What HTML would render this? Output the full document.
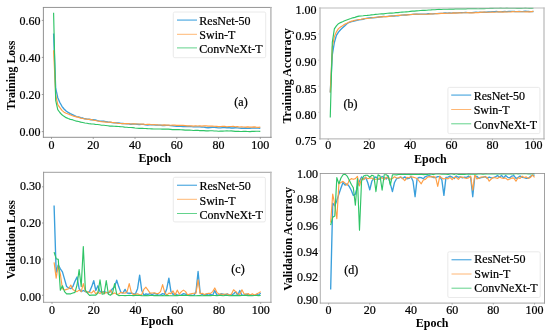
<!DOCTYPE html>
<html><head><meta charset="utf-8"><title>Training curves</title>
<style>
html,body{margin:0;padding:0;background:#fff;}
svg{display:block;font-family:"Liberation Serif","Times New Roman",serif;}
</style></head><body>
<svg width="550" height="334" viewBox="0 0 550 334">
<rect width="550" height="334" fill="#fff"/>
<polyline points="53.59,33.48 55.68,88.21 57.76,97.69 59.85,102.46 61.94,106.29 64.03,108.98 66.12,111.05 68.20,112.45 70.29,113.57 72.38,114.54 74.47,115.67 76.56,116.60 78.64,116.93 80.73,117.61 82.82,118.03 84.91,118.77 87.00,119.07 89.08,119.23 91.17,119.74 93.26,119.74 95.35,119.92 97.44,120.64 99.52,121.14 101.61,121.23 103.70,121.18 105.79,121.59 107.88,122.00 109.96,122.20 112.05,122.63 114.14,122.84 116.23,122.91 118.32,123.00 120.40,123.28 122.49,123.50 124.58,123.70 126.67,123.75 128.76,123.94 130.84,124.26 132.93,124.04 135.02,124.16 137.11,124.21 139.20,124.54 141.28,124.31 143.37,124.32 145.46,124.79 147.55,124.96 149.64,124.87 151.72,124.88 153.81,124.81 155.90,125.10 157.99,125.06 160.08,125.18 162.16,125.48 164.25,125.52 166.34,125.41 168.43,125.42 170.52,125.66 172.60,125.77 174.69,126.17 176.78,126.29 178.87,126.10 180.96,126.26 183.04,126.53 185.13,126.49 187.22,126.44 189.31,126.47 191.40,126.69 193.48,126.81 195.57,126.87 197.66,126.80 199.75,126.94 201.84,127.12 203.92,127.20 206.01,127.54 208.10,127.73 210.19,127.50 212.28,127.27 214.36,127.41 216.45,127.62 218.54,127.89 220.63,127.84 222.72,127.58 224.80,127.58 226.89,127.73 228.98,127.64 231.07,127.97 233.16,128.00 235.24,127.78 237.33,127.90 239.42,128.05 241.51,128.24 243.60,128.21 245.68,127.98 247.77,128.41 249.86,128.21 251.95,128.11 254.04,128.04 256.12,128.10 258.21,128.11 260.30,128.29" fill="none" stroke="#3a9fdc" stroke-width="1.35" stroke-linejoin="round"/>
<polyline points="53.59,50.18 55.68,94.70 57.76,104.65 59.85,107.56 61.94,110.34 64.03,112.15 66.12,113.19 68.20,114.03 70.29,114.85 72.38,115.79 74.47,116.35 76.56,116.89 78.64,117.41 80.73,118.14 82.82,118.56 84.91,118.98 87.00,119.18 89.08,119.31 91.17,119.56 93.26,120.07 95.35,120.51 97.44,120.95 99.52,121.43 101.61,121.80 103.70,121.85 105.79,122.07 107.88,122.26 109.96,122.17 112.05,122.43 114.14,122.64 116.23,122.99 118.32,123.36 120.40,123.46 122.49,123.69 124.58,123.67 126.67,123.45 128.76,123.60 130.84,124.01 132.93,123.88 135.02,123.94 137.11,124.02 139.20,124.00 141.28,124.10 143.37,124.18 145.46,124.49 147.55,124.33 149.64,124.30 151.72,124.76 153.81,124.69 155.90,124.71 157.99,124.90 160.08,124.98 162.16,125.07 164.25,124.91 166.34,125.09 168.43,125.03 170.52,125.29 172.60,125.15 174.69,125.10 176.78,125.34 178.87,125.43 180.96,125.31 183.04,125.38 185.13,125.57 187.22,125.84 189.31,125.94 191.40,125.81 193.48,126.06 195.57,125.80 197.66,126.05 199.75,125.84 201.84,126.09 203.92,125.87 206.01,125.93 208.10,126.09 210.19,126.18 212.28,126.18 214.36,126.23 216.45,126.43 218.54,126.61 220.63,126.55 222.72,126.31 224.80,126.38 226.89,126.74 228.98,126.53 231.07,126.50 233.16,126.40 235.24,126.77 237.33,126.66 239.42,127.01 241.51,126.88 243.60,127.04 245.68,127.16 247.77,126.88 249.86,127.19 251.95,127.13 254.04,126.93 256.12,127.19 258.21,127.36 260.30,127.08" fill="none" stroke="#ff9f45" stroke-width="1.15" stroke-linejoin="round"/>
<polyline points="53.59,12.71 55.68,100.27 57.76,109.64 59.85,112.50 61.94,114.80 64.03,116.34 66.12,117.65 68.20,118.57 70.29,119.34 72.38,119.67 74.47,120.47 76.56,121.18 78.64,121.52 80.73,122.15 82.82,122.56 84.91,122.98 87.00,123.27 89.08,123.74 91.17,123.92 93.26,124.05 95.35,124.36 97.44,124.55 99.52,124.77 101.61,125.21 103.70,125.27 105.79,125.46 107.88,125.75 109.96,126.08 112.05,126.03 114.14,126.23 116.23,126.35 118.32,126.45 120.40,126.65 122.49,126.76 124.58,127.10 126.67,127.20 128.76,127.46 130.84,127.49 132.93,127.61 135.02,128.03 137.11,128.26 139.20,128.39 141.28,128.23 143.37,128.39 145.46,128.45 147.55,128.65 149.64,128.72 151.72,128.84 153.81,128.96 155.90,128.98 157.99,129.03 160.08,128.97 162.16,129.07 164.25,129.07 166.34,129.13 168.43,129.15 170.52,129.32 172.60,129.63 174.69,129.56 176.78,129.52 178.87,129.57 180.96,129.75 183.04,129.82 185.13,130.08 187.22,130.01 189.31,130.11 191.40,130.30 193.48,130.51 195.57,130.35 197.66,130.25 199.75,130.57 201.84,130.50 203.92,130.64 206.01,130.83 208.10,130.91 210.19,130.80 212.28,130.73 214.36,131.04 216.45,131.00 218.54,131.23 220.63,131.08 222.72,131.16 224.80,131.01 226.89,130.91 228.98,131.04 231.07,130.93 233.16,131.15 235.24,131.35 237.33,131.26 239.42,131.44 241.51,131.48 243.60,131.43 245.68,131.34 247.77,131.47 249.86,131.58 251.95,131.34 254.04,131.44 256.12,131.26 258.21,131.20 260.30,131.37" fill="none" stroke="#2fc466" stroke-width="1.15" stroke-linejoin="round"/>
<line x1="43.40" y1="7.00" x2="43.40" y2="137.75" stroke="#858585" stroke-width="0.9"/>
<line x1="42.95" y1="7.45" x2="271.60" y2="7.45" stroke="#8a8a8a" stroke-width="0.9"/>
<line x1="270.90" y1="7.00" x2="270.90" y2="137.75" stroke="#b4b4b4" stroke-width="1.4"/>
<line x1="42.95" y1="137.30" x2="271.60" y2="137.30" stroke="#858585" stroke-width="0.9"/>
<text x="40.40" y="135.90" font-size="12" text-anchor="end" stroke="#000" stroke-width="0.22" fill="#000">0.00</text>
<text x="40.40" y="98.80" font-size="12" text-anchor="end" stroke="#000" stroke-width="0.22" fill="#000">0.20</text>
<text x="40.40" y="61.70" font-size="12" text-anchor="end" stroke="#000" stroke-width="0.22" fill="#000">0.40</text>
<text x="40.40" y="24.50" font-size="12" text-anchor="end" stroke="#000" stroke-width="0.22" fill="#000">0.60</text>
<line x1="41.8" y1="131.6" x2="43.4" y2="131.6" stroke="#858585" stroke-width="0.8"/>
<line x1="41.8" y1="94.5" x2="43.4" y2="94.5" stroke="#858585" stroke-width="0.8"/>
<line x1="41.8" y1="57.4" x2="43.4" y2="57.4" stroke="#858585" stroke-width="0.8"/>
<line x1="41.8" y1="20.4" x2="43.4" y2="20.4" stroke="#858585" stroke-width="0.8"/>
<line x1="51.50" y1="137.3" x2="51.50" y2="138.9" stroke="#858585" stroke-width="0.8"/>
<line x1="93.26" y1="137.3" x2="93.26" y2="138.9" stroke="#858585" stroke-width="0.8"/>
<line x1="135.02" y1="137.3" x2="135.02" y2="138.9" stroke="#858585" stroke-width="0.8"/>
<line x1="176.78" y1="137.3" x2="176.78" y2="138.9" stroke="#858585" stroke-width="0.8"/>
<line x1="218.54" y1="137.3" x2="218.54" y2="138.9" stroke="#858585" stroke-width="0.8"/>
<line x1="260.30" y1="137.3" x2="260.30" y2="138.9" stroke="#858585" stroke-width="0.8"/>
<text x="51.50" y="148.50" font-size="12" text-anchor="middle" stroke="#000" stroke-width="0.22" fill="#000">0</text>
<text x="93.26" y="148.50" font-size="12" text-anchor="middle" stroke="#000" stroke-width="0.22" fill="#000">20</text>
<text x="135.02" y="148.50" font-size="12" text-anchor="middle" stroke="#000" stroke-width="0.22" fill="#000">40</text>
<text x="176.78" y="148.50" font-size="12" text-anchor="middle" stroke="#000" stroke-width="0.22" fill="#000">60</text>
<text x="218.54" y="148.50" font-size="12" text-anchor="middle" stroke="#000" stroke-width="0.22" fill="#000">80</text>
<text x="260.30" y="148.50" font-size="12" text-anchor="middle" stroke="#000" stroke-width="0.22" fill="#000">100</text>
<text x="154.90" y="162.40" font-size="12" text-anchor="middle" font-weight="bold" fill="#000">Epoch</text>
<text x="14.70" y="75.40" font-size="11.8" text-anchor="middle" font-weight="bold" transform="rotate(-90 14.7 75.4)" fill="#000">Training Loss</text>
<rect x="173.3" y="12.0" width="92.40" height="45.70" rx="1.5" fill="#fff" fill-opacity="0.8" stroke="#e4e4e4" stroke-width="0.8"/>
<line x1="177" y1="20.1" x2="197" y2="20.1" stroke="#3a9fdc" stroke-width="1.4" stroke-opacity="0.75"/>
<text x="199.30" y="24.65" font-size="12" text-anchor="start" stroke="#000" stroke-width="0.22" fill="#000">ResNet-50</text>
<line x1="177" y1="34.3" x2="197" y2="34.3" stroke="#ff9f45" stroke-width="1.0" stroke-opacity="0.75"/>
<text x="199.30" y="39.20" font-size="12" text-anchor="start" stroke="#000" stroke-width="0.22" fill="#000">Swin-T</text>
<line x1="177" y1="47.9" x2="197" y2="47.9" stroke="#2fc466" stroke-width="1.0" stroke-opacity="0.75"/>
<text x="199.30" y="52.80" font-size="12" text-anchor="start" stroke="#000" stroke-width="0.22" fill="#000">ConvNeXt-T</text>
<text x="241.00" y="105.80" font-size="12" text-anchor="middle" stroke="#000" stroke-width="0.22" fill="#000">(a)</text>
<polyline points="330.25,92.43 332.31,54.91 334.36,42.51 336.41,35.32 338.46,32.13 340.52,29.77 342.57,27.78 344.62,25.88 346.68,24.03 348.73,22.53 350.78,21.79 352.84,21.36 354.89,20.74 356.94,20.28 359.00,19.86 361.05,19.59 363.10,19.26 365.15,18.66 367.21,18.27 369.26,17.95 371.31,17.70 373.37,17.72 375.42,17.58 377.47,17.29 379.52,17.00 381.58,16.72 383.63,16.48 385.68,16.61 387.74,16.37 389.79,16.15 391.84,16.01 393.90,16.00 395.95,15.78 398.00,15.76 400.06,15.32 402.11,15.05 404.16,14.98 406.21,14.98 408.27,14.65 410.32,14.56 412.37,14.35 414.43,14.21 416.48,14.23 418.53,14.23 420.58,14.10 422.64,14.06 424.69,14.11 426.74,14.03 428.80,13.73 430.85,13.86 432.90,13.88 434.96,13.61 437.01,13.57 439.06,13.41 441.12,13.32 443.17,13.29 445.22,12.96 447.27,13.09 449.33,13.03 451.38,13.05 453.43,12.86 455.49,12.89 457.54,12.84 459.59,12.63 461.64,12.68 463.70,12.57 465.75,12.35 467.80,12.55 469.86,12.64 471.91,12.59 473.96,12.32 476.02,12.22 478.07,12.31 480.12,12.29 482.17,12.32 484.23,12.20 486.28,12.29 488.33,12.04 490.39,11.81 492.44,11.65 494.49,11.64 496.55,11.53 498.60,11.85 500.65,11.87 502.70,11.59 504.76,11.51 506.81,11.60 508.86,11.41 510.92,11.43 512.97,11.34 515.02,11.50 517.08,11.60 519.13,11.53 521.18,11.61 523.24,11.53 525.29,11.24 527.34,11.33 529.39,11.50 531.45,11.56 533.50,11.52" fill="none" stroke="#3a9fdc" stroke-width="1.35" stroke-linejoin="round"/>
<polyline points="330.25,92.43 332.31,47.09 334.36,36.61 336.41,31.85 338.46,28.66 340.52,27.02 342.57,25.74 344.62,24.28 346.68,23.39 348.73,22.27 350.78,21.41 352.84,20.84 354.89,20.20 356.94,19.98 359.00,19.50 361.05,19.26 363.10,18.87 365.15,18.53 367.21,18.47 369.26,18.22 371.31,17.98 373.37,17.49 375.42,17.21 377.47,17.23 379.52,16.88 381.58,16.90 383.63,16.62 385.68,16.61 387.74,16.57 389.79,16.12 391.84,16.08 393.90,15.98 395.95,15.53 398.00,15.28 400.06,15.33 402.11,15.00 404.16,14.95 406.21,14.80 408.27,14.86 410.32,14.52 412.37,14.42 414.43,14.21 416.48,14.09 418.53,14.24 420.58,14.24 422.64,14.28 424.69,14.27 426.74,14.26 428.80,14.12 430.85,13.88 432.90,13.98 434.96,13.71 437.01,13.68 439.06,13.64 441.12,13.37 443.17,13.35 445.22,13.37 447.27,13.28 449.33,13.11 451.38,13.26 453.43,12.93 455.49,13.14 457.54,12.91 459.59,12.74 461.64,12.97 463.70,12.74 465.75,12.77 467.80,12.68 469.86,12.85 471.91,12.89 473.96,12.84 476.02,12.46 478.07,12.57 480.12,12.37 482.17,12.17 484.23,12.05 486.28,12.22 488.33,12.27 490.39,12.21 492.44,12.05 494.49,12.24 496.55,12.05 498.60,11.92 500.65,11.81 502.70,12.08 504.76,11.82 506.81,12.03 508.86,12.02 510.92,11.88 512.97,11.67 515.02,11.79 517.08,11.59 519.13,11.64 521.18,11.74 523.24,11.78 525.29,11.84 527.34,11.89 529.39,11.88 531.45,11.63 533.50,11.37" fill="none" stroke="#ff9f45" stroke-width="1.15" stroke-linejoin="round"/>
<polyline points="330.25,117.45 332.31,42.40 334.36,28.86 336.41,25.87 338.46,23.67 340.52,22.60 342.57,21.74 344.62,20.74 346.68,19.97 348.73,19.19 350.78,18.55 352.84,17.82 354.89,17.33 356.94,16.67 359.00,16.12 361.05,15.97 363.10,15.76 365.15,15.50 367.21,15.44 369.26,15.21 371.31,14.87 373.37,14.76 375.42,14.43 377.47,14.20 379.52,13.95 381.58,13.88 383.63,13.84 385.68,13.51 387.74,13.26 389.79,13.17 391.84,13.13 393.90,12.99 395.95,12.69 398.00,12.57 400.06,12.22 402.11,12.08 404.16,12.05 406.21,11.82 408.27,11.72 410.32,11.43 412.37,11.17 414.43,11.07 416.48,10.89 418.53,10.70 420.58,10.49 422.64,10.24 424.69,10.34 426.74,10.20 428.80,9.98 430.85,9.88 432.90,9.73 434.96,9.76 437.01,9.49 439.06,9.42 441.12,9.46 443.17,9.27 445.22,9.25 447.27,9.23 449.33,9.09 451.38,9.08 453.43,9.07 455.49,8.85 457.54,8.77 459.59,8.93 461.64,8.76 463.70,8.90 465.75,8.86 467.80,8.65 469.86,8.61 471.91,8.68 473.96,8.68 476.02,8.67 478.07,8.73 480.12,8.48 482.17,8.63 484.23,8.58 486.28,8.45 488.33,8.47 490.39,8.30 492.44,8.42 494.49,8.26 496.55,8.20 498.60,8.23 500.65,8.17 502.70,8.28 504.76,8.20 506.81,8.17 508.86,8.24 510.92,8.28 512.97,8.23 515.02,8.28 517.08,8.41 519.13,8.26 521.18,8.33 523.24,8.29 525.29,8.18 527.34,8.30 529.39,8.41 531.45,8.43 533.50,8.29" fill="none" stroke="#2fc466" stroke-width="1.15" stroke-linejoin="round"/>
<line x1="320.00" y1="7.50" x2="320.00" y2="139.40" stroke="#c2c2c2" stroke-width="1.5"/>
<line x1="319.25" y1="8.00" x2="544.65" y2="8.00" stroke="#bbbbbb" stroke-width="1.0"/>
<line x1="544.00" y1="7.50" x2="544.00" y2="139.40" stroke="#bdbdbd" stroke-width="1.3"/>
<line x1="319.25" y1="138.90" x2="544.65" y2="138.90" stroke="#adadad" stroke-width="1.0"/>
<line x1="328.20" y1="138.9" x2="328.20" y2="140.4" stroke="#a0a0a0" stroke-width="0.8"/>
<line x1="369.26" y1="138.9" x2="369.26" y2="140.4" stroke="#a0a0a0" stroke-width="0.8"/>
<line x1="410.32" y1="138.9" x2="410.32" y2="140.4" stroke="#a0a0a0" stroke-width="0.8"/>
<line x1="451.38" y1="138.9" x2="451.38" y2="140.4" stroke="#a0a0a0" stroke-width="0.8"/>
<line x1="492.44" y1="138.9" x2="492.44" y2="140.4" stroke="#a0a0a0" stroke-width="0.8"/>
<line x1="533.50" y1="138.9" x2="533.50" y2="140.4" stroke="#a0a0a0" stroke-width="0.8"/>
<text x="316.40" y="145.20" font-size="12" text-anchor="end" stroke="#000" stroke-width="0.22" fill="#000">0.75</text>
<text x="316.40" y="118.90" font-size="12" text-anchor="end" stroke="#000" stroke-width="0.22" fill="#000">0.80</text>
<text x="316.40" y="92.60" font-size="12" text-anchor="end" stroke="#000" stroke-width="0.22" fill="#000">0.85</text>
<text x="316.40" y="66.30" font-size="12" text-anchor="end" stroke="#000" stroke-width="0.22" fill="#000">0.90</text>
<text x="316.40" y="40.00" font-size="12" text-anchor="end" stroke="#000" stroke-width="0.22" fill="#000">0.95</text>
<text x="316.40" y="13.70" font-size="12" text-anchor="end" stroke="#000" stroke-width="0.22" fill="#000">1.00</text>
<line x1="318.3" y1="34.06" x2="319.5" y2="34.06" stroke="#bcbcbc" stroke-width="0.8"/>
<line x1="318.3" y1="60.12" x2="319.5" y2="60.12" stroke="#bcbcbc" stroke-width="0.8"/>
<line x1="318.3" y1="86.17999999999999" x2="319.5" y2="86.17999999999999" stroke="#bcbcbc" stroke-width="0.8"/>
<line x1="318.3" y1="112.24" x2="319.5" y2="112.24" stroke="#bcbcbc" stroke-width="0.8"/>
<text x="328.20" y="149.10" font-size="12" text-anchor="middle" stroke="#000" stroke-width="0.22" fill="#000">0</text>
<text x="369.26" y="149.10" font-size="12" text-anchor="middle" stroke="#000" stroke-width="0.22" fill="#000">20</text>
<text x="410.32" y="149.10" font-size="12" text-anchor="middle" stroke="#000" stroke-width="0.22" fill="#000">40</text>
<text x="451.38" y="149.10" font-size="12" text-anchor="middle" stroke="#000" stroke-width="0.22" fill="#000">60</text>
<text x="492.44" y="149.10" font-size="12" text-anchor="middle" stroke="#000" stroke-width="0.22" fill="#000">80</text>
<text x="533.50" y="149.10" font-size="12" text-anchor="middle" stroke="#000" stroke-width="0.22" fill="#000">100</text>
<text x="430.45" y="163.20" font-size="12" text-anchor="middle" font-weight="bold" fill="#000">Epoch</text>
<text x="291.50" y="75.90" font-size="12" text-anchor="middle" font-weight="bold" transform="rotate(-90 291.5 75.9)" fill="#000">Training Accuracy</text>
<rect x="447.9" y="87.4" width="92.00" height="46.20" rx="1.5" fill="#fff" fill-opacity="0.8" stroke="#e4e4e4" stroke-width="0.8"/>
<line x1="451.2" y1="95.1" x2="471.2" y2="95.1" stroke="#3a9fdc" stroke-width="1.4" stroke-opacity="0.75"/>
<text x="473.70" y="99.65" font-size="12" text-anchor="start" stroke="#000" stroke-width="0.22" fill="#000">ResNet-50</text>
<line x1="451.2" y1="109.5" x2="471.2" y2="109.5" stroke="#ff9f45" stroke-width="1.0" stroke-opacity="0.75"/>
<text x="473.70" y="114.05" font-size="12" text-anchor="start" stroke="#000" stroke-width="0.22" fill="#000">Swin-T</text>
<line x1="451.2" y1="123.8" x2="471.2" y2="123.8" stroke="#2fc466" stroke-width="1.0" stroke-opacity="0.75"/>
<text x="473.70" y="128.55" font-size="12" text-anchor="start" stroke="#000" stroke-width="0.22" fill="#000">ConvNeXt-T</text>
<text x="350.40" y="108.40" font-size="12" text-anchor="middle" stroke="#000" stroke-width="0.22" fill="#000">(b)</text>
<polyline points="54.09,205.60 56.17,272.21 58.26,264.89 60.35,268.92 62.44,271.84 64.52,279.16 66.61,286.48 68.70,287.95 70.78,288.68 72.87,286.48 74.96,281.36 77.04,276.97 79.13,288.68 81.22,291.61 83.31,290.51 85.39,291.61 87.48,292.34 89.57,291.61 91.65,286.85 93.74,280.63 95.83,290.51 97.91,285.75 100.00,291.61 102.09,292.34 104.17,291.61 106.26,292.34 108.35,293.07 110.44,291.61 112.52,288.68 114.61,286.85 116.70,280.26 118.78,286.85 120.87,292.34 122.96,293.07 125.05,289.41 127.13,293.07 129.22,293.23 131.31,293.25 133.39,293.56 135.48,293.82 137.57,288.68 139.65,275.14 141.74,290.51 143.83,295.06 145.92,293.81 148.00,294.49 150.09,293.69 152.18,294.55 154.26,293.52 156.35,293.74 158.44,295.30 160.52,294.93 162.61,293.66 164.70,294.48 166.78,288.68 168.87,278.07 170.96,291.61 173.05,294.23 175.13,293.97 177.22,294.91 179.31,295.25 181.39,294.81 183.48,293.66 185.57,294.05 187.66,295.23 189.74,295.00 191.83,295.27 193.92,295.36 196.00,291.61 198.09,271.48 200.18,293.07 202.26,294.67 204.35,295.15 206.44,294.16 208.53,295.27 210.61,294.33 212.70,295.30 214.79,290.51 216.87,295.14 218.96,295.04 221.05,293.76 223.13,294.07 225.22,294.98 227.31,293.93 229.40,295.16 231.48,294.83 233.57,293.99 235.66,291.61 237.74,295.38 239.83,290.51 241.92,295.18 244.00,295.10 246.09,294.16 248.18,294.97 250.26,295.03 252.35,295.44 254.44,295.42 256.53,294.52 258.61,295.14 260.70,293.07" fill="none" stroke="#3a9fdc" stroke-width="1.35" stroke-linejoin="round"/>
<polyline points="54.09,262.33 56.17,278.07 58.26,265.26 60.35,274.04 62.44,288.68 64.52,290.14 66.61,289.41 68.70,288.68 70.78,285.02 72.87,289.41 74.96,290.88 77.04,291.61 79.13,290.14 81.22,291.61 83.31,283.56 85.39,291.61 87.48,291.84 89.57,292.52 91.65,292.98 93.74,290.51 95.83,293.94 97.91,291.97 100.00,293.61 102.09,291.61 104.17,293.67 106.26,292.48 108.35,293.02 110.44,290.14 112.52,294.03 114.61,292.88 116.70,294.35 118.78,294.03 120.87,292.34 122.96,292.73 125.05,293.29 127.13,291.61 129.22,283.56 131.31,292.34 133.39,294.72 135.48,294.19 137.57,293.83 139.65,294.70 141.74,294.47 143.83,289.41 145.92,287.22 148.00,290.14 150.09,293.07 152.18,293.01 154.26,292.83 156.35,293.56 158.44,293.50 160.52,291.61 162.61,284.65 164.70,292.34 166.78,295.05 168.87,293.10 170.96,293.57 173.05,290.88 175.13,295.09 177.22,290.14 179.31,294.10 181.39,291.61 183.48,290.14 185.57,291.61 187.66,295.04 189.74,294.02 191.83,293.61 193.92,293.26 196.00,293.07 198.09,279.90 200.18,293.80 202.26,293.26 204.35,294.50 206.44,293.78 208.53,293.31 210.61,293.38 212.70,291.61 214.79,287.95 216.87,292.34 218.96,294.06 221.05,293.95 223.13,294.49 225.22,294.05 227.31,294.00 229.40,295.16 231.48,293.94 233.57,289.78 235.66,291.61 237.74,293.76 239.83,294.51 241.92,289.78 244.00,293.80 246.09,294.40 248.18,293.53 250.26,295.19 252.35,293.73 254.44,295.32 256.53,294.07 258.61,293.07 260.70,291.61" fill="none" stroke="#ff9f45" stroke-width="1.15" stroke-linejoin="round"/>
<polyline points="54.09,252.08 56.17,258.67 58.26,259.40 60.35,290.14 62.44,285.75 64.52,291.61 66.61,293.80 68.70,293.80 70.78,293.80 72.87,293.07 74.96,292.34 77.04,285.02 79.13,269.65 81.22,286.48 83.31,246.59 85.39,290.14 87.48,293.07 89.57,295.31 91.65,295.16 93.74,295.12 95.83,295.15 97.91,293.07 100.00,279.90 102.09,294.17 104.17,293.80 106.26,280.63 108.35,294.17 110.44,295.24 112.52,293.07 114.61,283.56 116.70,294.17 118.78,295.58 120.87,295.46 122.96,295.54 125.05,295.58 127.13,295.50 129.22,295.41 131.31,295.48 133.39,295.56 135.48,295.34 137.57,295.28 139.65,295.52 141.74,295.69 143.83,295.71 145.92,295.35 148.00,295.72 150.09,295.43 152.18,295.50 154.26,295.61 156.35,295.41 158.44,295.75 160.52,295.70 162.61,295.57 164.70,295.76 166.78,295.41 168.87,295.67 170.96,295.72 173.05,295.76 175.13,295.51 177.22,295.59 179.31,295.51 181.39,295.50 183.48,295.44 185.57,295.38 187.66,295.50 189.74,295.71 191.83,295.59 193.92,295.73 196.00,295.80 198.09,295.60 200.18,295.50 202.26,295.73 204.35,295.69 206.44,295.66 208.53,295.51 210.61,295.59 212.70,295.55 214.79,295.49 216.87,295.65 218.96,295.48 221.05,295.43 223.13,295.79 225.22,295.42 227.31,295.51 229.40,295.77 231.48,295.63 233.57,295.56 235.66,295.43 237.74,295.67 239.83,295.58 241.92,295.45 244.00,295.49 246.09,295.42 248.18,295.63 250.26,295.55 252.35,295.75 254.44,295.52 256.53,295.48 258.61,295.56 260.70,295.52" fill="none" stroke="#2fc466" stroke-width="1.15" stroke-linejoin="round"/>
<line x1="43.60" y1="171.85" x2="43.60" y2="302.75" stroke="#8c8c8c" stroke-width="0.9"/>
<line x1="43.15" y1="172.30" x2="271.60" y2="172.30" stroke="#949494" stroke-width="0.9"/>
<line x1="270.90" y1="171.85" x2="270.90" y2="302.75" stroke="#bcbcbc" stroke-width="1.4"/>
<line x1="43.15" y1="302.30" x2="271.60" y2="302.30" stroke="#9c9c9c" stroke-width="0.9"/>
<text x="41.10" y="300.60" font-size="12" text-anchor="end" stroke="#000" stroke-width="0.22" fill="#000">0.00</text>
<text x="41.10" y="263.60" font-size="12" text-anchor="end" stroke="#000" stroke-width="0.22" fill="#000">0.10</text>
<text x="41.10" y="226.70" font-size="12" text-anchor="end" stroke="#000" stroke-width="0.22" fill="#000">0.20</text>
<text x="41.10" y="189.80" font-size="12" text-anchor="end" stroke="#000" stroke-width="0.22" fill="#000">0.30</text>
<line x1="42.0" y1="295.3" x2="43.6" y2="295.3" stroke="#8c8c8c" stroke-width="0.8"/>
<line x1="42.0" y1="259.1" x2="43.6" y2="259.1" stroke="#8c8c8c" stroke-width="0.8"/>
<line x1="42.0" y1="223" x2="43.6" y2="223" stroke="#8c8c8c" stroke-width="0.8"/>
<line x1="42.0" y1="186.8" x2="43.6" y2="186.8" stroke="#8c8c8c" stroke-width="0.8"/>
<line x1="52.00" y1="302.3" x2="52.00" y2="303.90000000000003" stroke="#8c8c8c" stroke-width="0.8"/>
<line x1="93.74" y1="302.3" x2="93.74" y2="303.90000000000003" stroke="#8c8c8c" stroke-width="0.8"/>
<line x1="135.48" y1="302.3" x2="135.48" y2="303.90000000000003" stroke="#8c8c8c" stroke-width="0.8"/>
<line x1="177.22" y1="302.3" x2="177.22" y2="303.90000000000003" stroke="#8c8c8c" stroke-width="0.8"/>
<line x1="218.96" y1="302.3" x2="218.96" y2="303.90000000000003" stroke="#8c8c8c" stroke-width="0.8"/>
<line x1="260.70" y1="302.3" x2="260.70" y2="303.90000000000003" stroke="#8c8c8c" stroke-width="0.8"/>
<text x="52.00" y="313.80" font-size="12" text-anchor="middle" stroke="#000" stroke-width="0.22" fill="#000">0</text>
<text x="93.74" y="313.80" font-size="12" text-anchor="middle" stroke="#000" stroke-width="0.22" fill="#000">20</text>
<text x="135.48" y="313.80" font-size="12" text-anchor="middle" stroke="#000" stroke-width="0.22" fill="#000">40</text>
<text x="177.22" y="313.80" font-size="12" text-anchor="middle" stroke="#000" stroke-width="0.22" fill="#000">60</text>
<text x="218.96" y="313.80" font-size="12" text-anchor="middle" stroke="#000" stroke-width="0.22" fill="#000">80</text>
<text x="260.70" y="313.80" font-size="12" text-anchor="middle" stroke="#000" stroke-width="0.22" fill="#000">100</text>
<text x="157.15" y="324.80" font-size="12" text-anchor="middle" font-weight="bold" fill="#000">Epoch</text>
<text x="14.80" y="239.60" font-size="12" text-anchor="middle" font-weight="bold" transform="rotate(-90 14.8 239.6)" fill="#000">Validation Loss</text>
<rect x="173.3" y="177.3" width="92.10" height="44.60" rx="1.5" fill="#fff" fill-opacity="0.8" stroke="#e4e4e4" stroke-width="0.8"/>
<line x1="177" y1="185.3" x2="197" y2="185.3" stroke="#3a9fdc" stroke-width="1.4" stroke-opacity="0.75"/>
<text x="199.50" y="190.10" font-size="12" text-anchor="start" stroke="#000" stroke-width="0.22" fill="#000">ResNet-50</text>
<line x1="177" y1="199.3" x2="197" y2="199.3" stroke="#ff9f45" stroke-width="1.0" stroke-opacity="0.75"/>
<text x="199.50" y="204.70" font-size="12" text-anchor="start" stroke="#000" stroke-width="0.22" fill="#000">Swin-T</text>
<line x1="177" y1="213.5" x2="197" y2="213.5" stroke="#2fc466" stroke-width="1.0" stroke-opacity="0.75"/>
<text x="199.50" y="219.20" font-size="12" text-anchor="start" stroke="#000" stroke-width="0.22" fill="#000">ConvNeXt-T</text>
<text x="238.00" y="273.00" font-size="12" text-anchor="middle" stroke="#000" stroke-width="0.22" fill="#000">(c)</text>
<polyline points="330.66,289.51 332.72,203.15 334.78,205.73 336.84,200.57 338.90,194.12 340.95,188.07 343.01,182.52 345.07,185.10 347.13,183.81 349.19,186.39 351.25,190.26 353.31,195.41 355.37,194.12 357.43,186.39 359.49,181.23 361.54,176.98 363.60,179.55 365.66,177.15 367.72,182.52 369.78,189.74 371.84,181.23 373.90,178.26 375.96,176.86 378.02,179.37 380.08,179.20 382.13,176.52 384.19,177.74 386.25,179.00 388.31,176.20 390.37,183.81 392.43,191.55 394.49,182.52 396.55,178.71 398.61,178.13 400.67,177.15 402.72,178.54 404.78,176.86 406.84,178.84 408.90,178.44 410.96,176.43 413.02,181.23 415.08,196.70 417.14,178.66 419.20,177.39 421.25,177.65 423.31,178.73 425.37,176.56 427.43,175.80 429.49,175.75 431.55,176.70 433.61,177.64 435.67,177.60 437.73,176.57 439.79,176.61 441.85,179.94 443.90,195.41 445.96,177.37 448.02,177.06 450.08,176.12 452.14,177.07 454.20,178.52 456.26,176.05 458.32,177.25 460.38,176.97 462.44,177.88 464.49,177.23 466.55,177.34 468.61,176.15 470.67,177.37 472.73,196.70 474.79,176.08 476.85,176.35 478.91,178.38 480.97,177.63 483.02,177.42 485.08,176.50 487.14,178.31 489.20,177.04 491.26,177.81 493.32,177.58 495.38,176.97 497.44,175.47 499.50,176.94 501.56,175.47 503.62,177.90 505.67,175.56 507.73,177.28 509.79,177.82 511.85,176.09 513.91,175.58 515.97,178.37 518.03,177.56 520.09,176.00 522.15,177.32 524.20,177.63 526.26,178.35 528.32,178.25 530.38,176.45 532.44,175.32 534.50,175.27" fill="none" stroke="#3a9fdc" stroke-width="1.35" stroke-linejoin="round"/>
<polyline points="330.66,222.48 332.72,194.12 334.78,204.44 336.84,218.62 338.90,183.81 340.95,182.52 343.01,181.36 345.07,183.17 347.13,185.36 349.19,180.33 351.25,178.66 353.31,179.30 355.37,178.66 357.43,176.46 359.49,185.87 361.54,178.66 363.60,179.52 365.66,177.41 367.72,178.69 369.78,178.08 371.84,178.01 373.90,179.49 375.96,179.23 378.02,179.28 380.08,177.92 382.13,177.85 384.19,179.55 386.25,177.19 388.31,178.59 390.37,179.12 392.43,178.48 394.49,176.77 396.55,178.04 398.61,177.81 400.67,176.87 402.72,178.66 404.78,180.59 406.84,177.37 408.90,177.80 410.96,176.81 413.02,177.13 415.08,177.75 417.14,178.45 419.20,181.23 421.25,183.81 423.31,179.94 425.37,179.40 427.43,177.24 429.49,176.62 431.55,176.93 433.61,176.61 435.67,177.37 437.73,186.39 439.79,176.08 441.85,178.15 443.90,179.01 445.96,178.21 448.02,178.91 450.08,177.37 452.14,179.69 454.20,177.37 456.26,177.32 458.32,179.30 460.38,177.11 462.44,177.04 464.49,177.98 466.55,178.43 468.61,177.92 470.67,176.08 472.73,190.26 474.79,174.79 476.85,178.87 478.91,178.17 480.97,176.98 483.02,176.78 485.08,177.08 487.14,177.37 489.20,181.23 491.26,179.01 493.32,177.58 495.38,177.71 497.44,178.53 499.50,177.01 501.56,178.01 503.62,178.33 505.67,178.05 507.73,179.94 509.79,179.03 511.85,177.93 513.91,178.18 515.97,181.23 518.03,177.70 520.09,178.35 522.15,176.18 524.20,177.47 526.26,176.86 528.32,178.51 530.38,177.57 532.44,174.79 534.50,177.37" fill="none" stroke="#ff9f45" stroke-width="1.15" stroke-linejoin="round"/>
<polyline points="330.66,225.06 332.72,217.33 334.78,216.04 336.84,177.62 338.90,183.81 340.95,178.01 343.01,174.79 345.07,174.14 347.13,176.08 349.19,179.94 351.25,184.20 353.31,187.68 355.37,205.21 357.43,178.66 359.49,230.22 361.54,181.23 363.60,176.08 365.66,175.28 367.72,175.28 369.78,177.37 371.84,175.25 373.90,176.08 375.96,191.55 378.02,174.79 380.08,176.08 382.13,190.26 384.19,174.79 386.25,174.70 388.31,176.08 390.37,185.10 392.43,174.79 394.49,174.78 396.55,174.91 398.61,174.48 400.67,174.30 402.72,174.45 404.78,174.29 406.84,174.55 408.90,174.37 410.96,174.62 413.02,174.49 415.08,174.49 417.14,174.46 419.20,174.43 421.25,174.10 423.31,174.57 425.37,174.52 427.43,174.47 429.49,173.90 431.55,174.23 433.61,174.57 435.67,173.95 437.73,173.91 439.79,173.94 441.85,174.28 443.90,173.97 445.96,174.29 448.02,174.41 450.08,173.84 452.14,173.85 454.20,174.32 456.26,173.79 458.32,174.44 460.38,174.21 462.44,174.43 464.49,174.30 466.55,174.29 468.61,173.86 470.67,174.17 472.73,174.25 474.79,174.24 476.85,174.14 478.91,173.70 480.97,173.89 483.02,174.28 485.08,173.82 487.14,173.93 489.20,173.99 491.26,173.92 493.32,173.82 495.38,173.70 497.44,173.92 499.50,173.82 501.56,173.94 503.62,173.81 505.67,173.99 507.73,173.97 509.79,173.88 511.85,173.72 513.91,174.06 515.97,173.55 518.03,173.88 520.09,173.60 522.15,173.72 524.20,173.51 526.26,173.72 528.32,173.92 530.38,173.93 532.44,173.77 534.50,173.65" fill="none" stroke="#2fc466" stroke-width="1.15" stroke-linejoin="round"/>
<line x1="320.30" y1="173.10" x2="320.30" y2="303.55" stroke="#a0a0a0" stroke-width="0.85"/>
<line x1="319.88" y1="173.50" x2="544.92" y2="173.50" stroke="#8c8c8c" stroke-width="0.8"/>
<line x1="544.50" y1="173.10" x2="544.50" y2="303.55" stroke="#909090" stroke-width="0.85"/>
<line x1="319.88" y1="303.10" x2="544.92" y2="303.10" stroke="#9c9c9c" stroke-width="0.9"/>
<line x1="328.60" y1="303.1" x2="328.60" y2="304.6" stroke="#9c9c9c" stroke-width="0.8"/>
<line x1="369.78" y1="303.1" x2="369.78" y2="304.6" stroke="#9c9c9c" stroke-width="0.8"/>
<line x1="410.96" y1="303.1" x2="410.96" y2="304.6" stroke="#9c9c9c" stroke-width="0.8"/>
<line x1="452.14" y1="303.1" x2="452.14" y2="304.6" stroke="#9c9c9c" stroke-width="0.8"/>
<line x1="493.32" y1="303.1" x2="493.32" y2="304.6" stroke="#9c9c9c" stroke-width="0.8"/>
<line x1="534.50" y1="303.1" x2="534.50" y2="304.6" stroke="#9c9c9c" stroke-width="0.8"/>
<text x="318.10" y="177.90" font-size="12" text-anchor="end" stroke="#000" stroke-width="0.22" fill="#000">1.00</text>
<text x="318.10" y="203.40" font-size="12" text-anchor="end" stroke="#000" stroke-width="0.22" fill="#000">0.98</text>
<text x="318.10" y="229.50" font-size="12" text-anchor="end" stroke="#000" stroke-width="0.22" fill="#000">0.96</text>
<text x="318.10" y="256.00" font-size="12" text-anchor="end" stroke="#000" stroke-width="0.22" fill="#000">0.94</text>
<text x="318.10" y="281.10" font-size="12" text-anchor="end" stroke="#000" stroke-width="0.22" fill="#000">0.92</text>
<text x="318.10" y="304.30" font-size="12" text-anchor="end" stroke="#000" stroke-width="0.22" fill="#000">0.90</text>
<line x1="318.6" y1="199.28" x2="319.8" y2="199.28" stroke="#b4b4b4" stroke-width="0.8"/>
<line x1="318.6" y1="225.06" x2="319.8" y2="225.06" stroke="#b4b4b4" stroke-width="0.8"/>
<line x1="318.6" y1="250.84" x2="319.8" y2="250.84" stroke="#b4b4b4" stroke-width="0.8"/>
<line x1="318.6" y1="276.62" x2="319.8" y2="276.62" stroke="#b4b4b4" stroke-width="0.8"/>
<text x="328.60" y="313.50" font-size="12" text-anchor="middle" stroke="#000" stroke-width="0.22" fill="#000">0</text>
<text x="369.78" y="313.50" font-size="12" text-anchor="middle" stroke="#000" stroke-width="0.22" fill="#000">20</text>
<text x="410.96" y="313.50" font-size="12" text-anchor="middle" stroke="#000" stroke-width="0.22" fill="#000">40</text>
<text x="452.14" y="313.50" font-size="12" text-anchor="middle" stroke="#000" stroke-width="0.22" fill="#000">60</text>
<text x="493.32" y="313.50" font-size="12" text-anchor="middle" stroke="#000" stroke-width="0.22" fill="#000">80</text>
<text x="534.50" y="313.50" font-size="12" text-anchor="middle" stroke="#000" stroke-width="0.22" fill="#000">100</text>
<text x="432.05" y="326.70" font-size="12" text-anchor="middle" font-weight="bold" fill="#000">Epoch</text>
<text x="292.00" y="238.90" font-size="12" text-anchor="middle" font-weight="bold" transform="rotate(-90 292 238.9)" fill="#000">Validation Accuracy</text>
<rect x="447.8" y="251.8" width="92.40" height="45.70" rx="1.5" fill="#fff" fill-opacity="0.8" stroke="#e4e4e4" stroke-width="0.8"/>
<line x1="451.5" y1="259.7" x2="471.5" y2="259.7" stroke="#3a9fdc" stroke-width="1.4" stroke-opacity="0.75"/>
<text x="474.30" y="263.10" font-size="12" text-anchor="start" stroke="#000" stroke-width="0.22" fill="#000">ResNet-50</text>
<line x1="451.5" y1="274.0" x2="471.5" y2="274.0" stroke="#ff9f45" stroke-width="1.0" stroke-opacity="0.75"/>
<text x="474.30" y="277.50" font-size="12" text-anchor="start" stroke="#000" stroke-width="0.22" fill="#000">Swin-T</text>
<line x1="451.5" y1="288.2" x2="471.5" y2="288.2" stroke="#2fc466" stroke-width="1.0" stroke-opacity="0.75"/>
<text x="474.30" y="291.90" font-size="12" text-anchor="start" stroke="#000" stroke-width="0.22" fill="#000">ConvNeXt-T</text>
<text x="351.30" y="274.00" font-size="12" text-anchor="middle" stroke="#000" stroke-width="0.22" fill="#000">(d)</text>
</svg>
</body></html>
